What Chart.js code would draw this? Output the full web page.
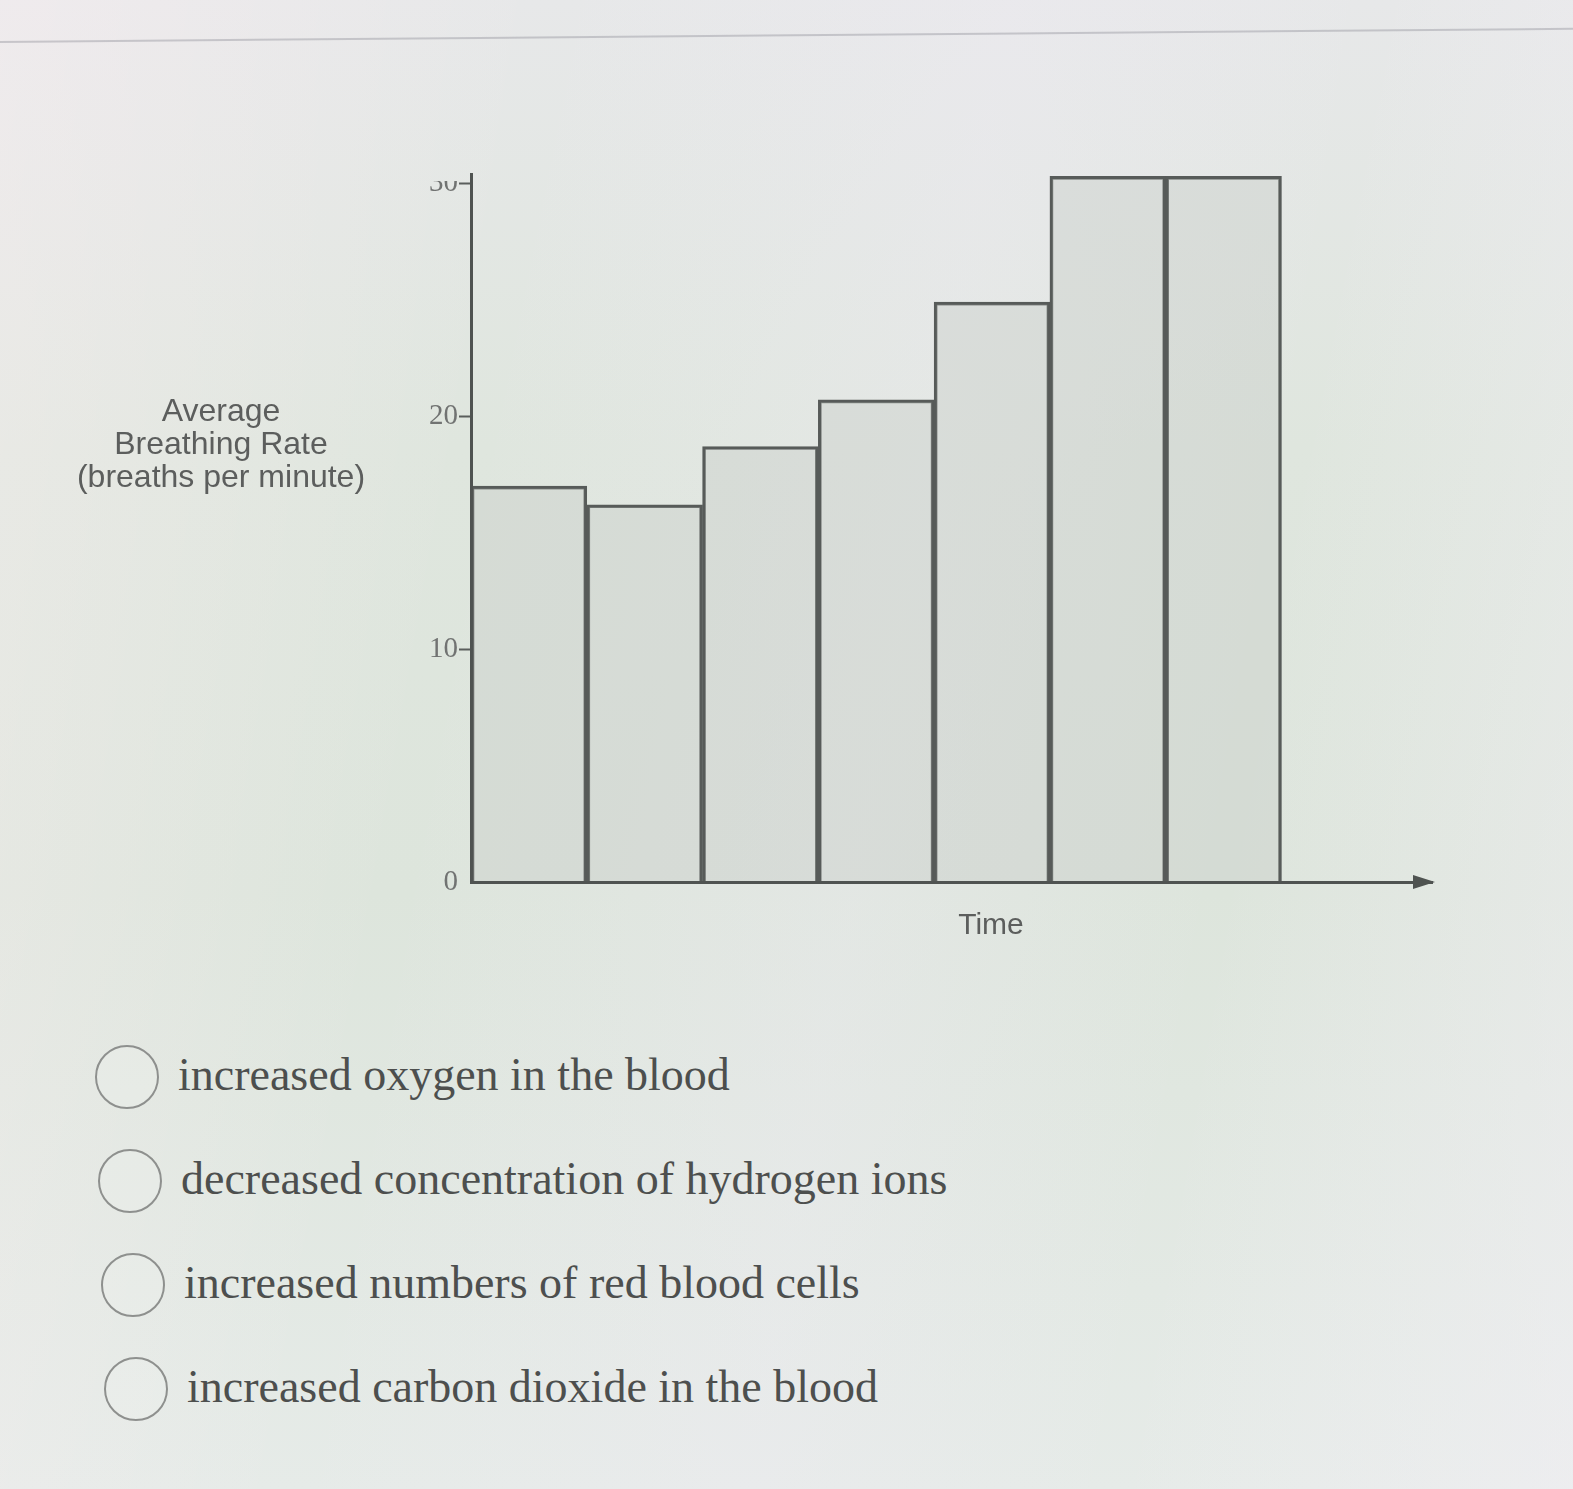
<!DOCTYPE html>
<html>
<head>
<meta charset="utf-8">
<script src="https://cdn.jsdelivr.net/npm/chart.js@4.4.1/dist/chart.umd.min.js"></script>
<style>
  html, body { margin: 0; padding: 0; }
  body {
    width: 1573px; height: 1489px; overflow: hidden; position: relative;
    background:
      linear-gradient(100deg, rgba(255,240,245,0.35) 0%, rgba(230,240,230,0.0) 30%, rgba(240,235,245,0.3) 55%, rgba(228,238,228,0.0) 75%, rgba(245,240,248,0.45) 100%),
      linear-gradient(180deg, #e7e8e9 0%, #dfe6de 30%, #dde5dc 60%, #e6ebe8 100%);
  }
  #topline {
    position: absolute; left: -10px; top: 41px; width: 1600px; height: 2px;
    background: rgba(150,150,160,0.45); transform: rotate(-0.48deg); transform-origin: 0 0;
  }
  #wrap { position: absolute; left: 0; top: 0; width: 1573px; height: 1000px; }
  .circle {
    position: absolute; width: 60px; height: 60px; border-radius: 50%;
    border: 2px solid #8e908e; background: rgba(240,243,240,0.25);
  }
  .choice {
    position: absolute; font-family: "Liberation Serif", "DejaVu Serif", serif;
    font-size: 46px; line-height: 46px; color: #4d4f4e; white-space: nowrap;
  }
</style>
</head>
<body>
<div id="topline"></div>
<div id="wrap"><canvas id="c" width="1573" height="1000"></canvas></div>
<div id="choices"></div>
<script>
// ---- data ----
const timePoints = [1, 2, 3, 4, 5, 6, 7];
const breathingRate = [17.0, 16.2, 18.7, 20.7, 24.9, 30.3, 30.3];
const yTicks = [0, 10, 20, 30];
const yAxisLabel = ['Average', 'Breathing Rate', '(breaths per minute)'];
const xAxisLabel = 'Time';
const answerChoices = [
  'increased oxygen in the blood',
  'decreased concentration of hydrogen ions',
  'increased numbers of red blood cells',
  'increased carbon dioxide in the blood'
];

// ---- answer choices (HTML text) ----
const choiceBox = document.getElementById('choices');
answerChoices.forEach((txt, i) => {
  const cx = 127 + 3 * i, cy = 1077 + 104 * i;
  const c = document.createElement('div');
  c.className = 'circle';
  c.style.left = (cx - 32) + 'px';
  c.style.top = (cy - 32) + 'px';
  choiceBox.appendChild(c);
  const t = document.createElement('div');
  t.className = 'choice';
  t.textContent = txt;
  t.style.left = (178 + 3 * i) + 'px';
  t.style.top = (1090 + 104 * i - 38) + 'px';
  choiceBox.appendChild(t);
});

// ---- chart ----
const AXIS = '#4f5351';
const decorPlugin = {
  id: 'decor',
  beforeDraw(chart) {
    const ctx = chart.ctx;
    ctx.save();
    ctx.beginPath();
    ctx.rect(0, 0, chart.width, chart.height);
    ctx.rect(0, 0, 462, 181);
    ctx.clip('evenodd');
  },
  afterDraw(chart) {
    const ctx = chart.ctx;
    ctx.restore();
    const a = chart.chartArea;
    // arrow head at the end of the time axis
    ctx.save();
    ctx.fillStyle = AXIS;
    ctx.beginPath();
    ctx.moveTo(a.right + 3, a.bottom);
    ctx.lineTo(a.right - 19, a.bottom - 7);
    ctx.lineTo(a.right - 19, a.bottom + 7);
    ctx.closePath();
    ctx.fill();
    // y-axis label (horizontal, 3 lines)
    ctx.fillStyle = '#5c5e5d';
    ctx.font = '32px "Liberation Sans", Arial, sans-serif';
    ctx.textAlign = 'center';
    ctx.textBaseline = 'alphabetic';
    const base = [421, 454, 487];
    yAxisLabel.forEach((l, i) => ctx.fillText(l, 221, base[i]));
    // x-axis label
    ctx.font = '30px "Liberation Sans", Arial, sans-serif';
    ctx.fillText(xAxisLabel, 991, 934);
    ctx.restore();
  }
};

new Chart(document.getElementById('c'), {
  type: 'bar',
  data: {
    datasets: [{
      data: timePoints.map((t, i) => ({ x: t, y: breathingRate[i] })),
      backgroundColor: 'rgba(200,206,200,0.42)',
      borderColor: '#575b59',
      borderWidth: 3,
      barPercentage: 1,
      categoryPercentage: 1
    }]
  },
  options: {
    responsive: false,
    animation: false,
    devicePixelRatio: 1,
    layout: { padding: { left: 0, right: 141, top: 174, bottom: 0 } },
    plugins: { legend: { display: false }, tooltip: { enabled: false }, title: { display: false } },
    scales: {
      x: {
        type: 'linear', min: 0.5, max: 8.8, offset: false,
        afterBuildTicks: s => { s.ticks = timePoints.map(v => ({ value: v })); },
        grid: { display: true, drawOnChartArea: false, drawTicks: false, offset: false },
        ticks: { display: false },
        border: { display: true, color: AXIS, width: 3, z: 1 },
        afterFit: s => { s.height = 118; }
      },
      y: {
        min: 0, max: 30.4,
        afterBuildTicks: s => { s.ticks = yTicks.map(v => ({ value: v })); },
        ticks: {
          font: { family: '"Liberation Serif", serif', size: 29 },
          color: '#717372',
          padding: 1
        },
        grid: {
          drawOnChartArea: false, tickLength: 12, tickWidth: 2,
          tickColor: ctx => (ctx.tick && ctx.tick.value === 0) ? 'rgba(0,0,0,0)' : '#5a5e5c'
        },
        border: { display: true, color: AXIS, width: 3, z: 1 },
        afterFit: s => { s.width = 471; }
      }
    }
  },
  plugins: [decorPlugin]
});
</script>
</body>
</html>
